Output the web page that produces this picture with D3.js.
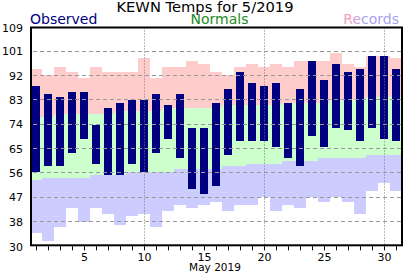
<!DOCTYPE html>
<html lang="en">
<head>
    <meta charset="UTF-8">
    <title>KEWN Temps for 5/2019</title>
    <script src="https://d3js.org/d3.v7.min.js"></script>
    <style>
        body { margin: 0; background: #fff; }
        svg { display: block; }
        text { font-family: "DejaVu Sans", Verdana, sans-serif; }
    </style>
</head>
<body>
<svg width="412" height="276"></svg>
<script>
    // Data (degrees F)
    const days = [1,2,3,4,5,6,7,8,9,10,11,12,13,14,15,16,17,18,19,20,21,22,23,24,25,26,27,28,29,30,31];
    const obsHigh = [87,84,83,85,85,73,79,81,82,82,84,80,84,72,72,81,86,92,88,87,88,81,86,96,89,95,92,93,98,98,93];
    const obsLow  = [56,58,58,63,68,59,55,55,59,56,63,68,61,50,48,51,62,67,67,67,65,61,58,69,65,72,71,67,72,68,67];
    const normHigh = [76,76,77,77,77,77,77,78,78,78,78,79,79,79,79,79,80,80,80,80,80,81,81,81,81,82,82,82,83,83,83];
    const normLow  = [53,54,54,54,54,55,55,55,56,56,56,56,57,57,57,57,58,58,59,59,59,60,60,60,61,61,61,61,62,62,62];
    const recHigh = [93,91,94,92,90,94,92,92,92,97,90,94,94,96,95,92,91,94,95,94,95,94,96,96,96,99,95,94,98,98,97];
    const recLow  = [34,31,36,43,38,43,41,37,40,41,36,42,44,43,44,45,42,44,44,47,42,44,43,47,45,47,45,41,49,52,49];
    const yTickLabels = [30,38,47,56,65,74,83,92,101,109];
    const xTickLabels = [5,10,15,20,25,30];
    const dottedDays = [10,20,30];

    const svg = d3.select("svg");
    const plotL = 31, plotR = 402, plotT = 27.5, plotB = 245.3;

    const x = d3.scaleLinear().domain([0.5, 31.5]).range([30, 402]);
    const y = d3.scaleLinear().domain([29.55, 108.55]).range([245.3, 26.3]);
    const yTick = d3.scaleLinear().domain([0, yTickLabels.length - 1]).range(y.range());

    const defs = svg.append("defs");
    defs.append("clipPath").attr("id", "plot")
        .append("rect").attr("x", plotL).attr("y", plotT)
        .attr("width", plotR - plotL).attr("height", plotB - plotT);

    const rows = days.map((d, i) => ({
        day: d, hi: obsHigh[i], lo: obsLow[i],
        nh: normHigh[i], nl: normLow[i], rh: recHigh[i], rl: recLow[i]
    }));

    const plot = svg.append("g").attr("clip-path", "url(#plot)");

    // record / normal bands as daily steps
    const bands = [
        { hiVal: d => d.rh, loVal: d => d.nh, color: "#ffcccc" },
        { hiVal: d => d.nh, loVal: d => d.nl, color: "#ccffcc" },
        { hiVal: d => d.nl, loVal: d => d.rl, color: "#ccccff" }
    ];
    bands.forEach(b => {
        plot.append("g").selectAll("rect")
            .data(rows).enter().append("rect")
            .attr("x", d => x(d.day - 0.5))
            .attr("width", d => x(d.day + 0.5) - x(d.day - 0.5))
            .attr("y", d => y(b.hiVal(d)))
            .attr("height", d => y(b.loVal(d)) - y(b.hiVal(d)))
            .attr("fill", b.color)
            .attr("shape-rendering", "crispEdges");
    });

    // observed bars
    plot.append("g").selectAll("rect")
        .data(rows).enter().append("rect")
        .attr("x", d => x(d.day - 1/3))
        .attr("width", d => x(d.day + 1/3) - x(d.day - 1/3))
        .attr("y", d => y(d.hi))
        .attr("height", d => y(d.lo) - y(d.hi))
        .attr("fill", "#000080")
        .attr("shape-rendering", "crispEdges");

    // dashed horizontal grid
    plot.append("g").selectAll("line")
        .data(d3.range(1, yTickLabels.length - 1)).enter().append("line")
        .attr("x1", 33).attr("x2", plotR)
        .attr("y1", d => Math.round(yTick(d)) + 0.5)
        .attr("y2", d => Math.round(yTick(d)) + 0.5)
        .attr("stroke", "#999")
        .attr("stroke-dasharray", "4,3");

    // dotted vertical lines
    plot.append("g").selectAll("line")
        .data(dottedDays).enter().append("line")
        .attr("x1", d => Math.round(x(d)) + 0.5).attr("x2", d => Math.round(x(d)) + 0.5)
        .attr("y1", plotT).attr("y2", plotB)
        .attr("stroke", "#777")
        .attr("stroke-dasharray", "1,2");

    // frame
    svg.append("rect")
        .attr("x", plotL).attr("y", plotT)
        .attr("width", plotR - plotL).attr("height", plotB - plotT)
        .attr("fill", "none").attr("stroke", "#000").attr("stroke-width", 2);

    // y axis labels
    svg.append("g").selectAll("text")
        .data(yTickLabels).enter().append("text")
        .attr("x", 23)
        .attr("y", (d, i) => yTick(i) + (i === 0 || i === yTickLabels.length - 1 ? 5.5 : 4.7))
        .attr("text-anchor", "end")
        .attr("font-size", "11px")
        .attr("fill", "#000")
        .text(d => d);

    // x axis
    const xAxis = d3.axisBottom(x)
        .tickValues(days)
        .tickSize(4)
        .tickFormat(d => xTickLabels.includes(d) ? d : "");
    const xg = svg.append("g").attr("transform", `translate(0,${plotB + 1})`).call(xAxis);
    xg.select(".domain").remove();
    xg.selectAll("line").attr("stroke", "#000");
    xg.selectAll("text").attr("font-size", "11px").attr("font-family", "DejaVu Sans, sans-serif")
        .attr("y", 7).attr("fill", "#000");

    svg.append("text")
        .attr("x", 215).attr("y", 271)
        .attr("text-anchor", "middle")
        .attr("font-size", "10.5px")
        .text("May 2019");

    // title and legend
    svg.append("text")
        .attr("x", 205).attr("y", 11.5)
        .attr("text-anchor", "middle")
        .attr("font-size", "14.7px")
        .text("KEWN Temps for 5/2019");

    svg.append("text")
        .attr("x", 30).attr("y", 24)
        .attr("font-size", "14px")
        .attr("fill", "#000080")
        .text("Observed");

    svg.append("text")
        .attr("x", 219.5).attr("y", 24)
        .attr("text-anchor", "middle")
        .attr("font-size", "14px")
        .attr("fill", "#228b22")
        .text("Normals");

    // "Records" fades from pink to lavender
    const rec = svg.append("text")
        .attr("x", 399).attr("y", 24)
        .attr("text-anchor", "end")
        .attr("font-size", "14px");
    rec.append("tspan").attr("fill", "#f4a0bc").text("R");
    rec.append("tspan").attr("fill", "#d0a0e0").text("e");
    rec.append("tspan").attr("fill", "#a8a0f4").text("cords");
</script>
</body>
</html>
